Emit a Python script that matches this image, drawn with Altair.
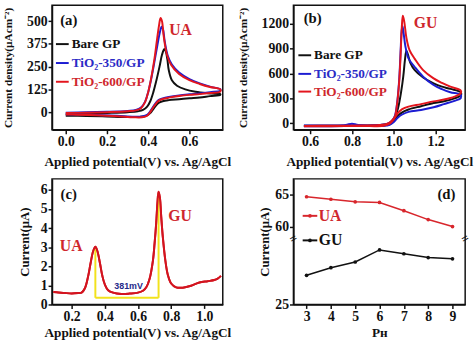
import altair as alt
import pandas as pd

SERIF = "Liberation Serif"
SANS = "Liberation Sans"
BLACK = "#111111"
BLUE = "#1c1cd2"
RED = "#e3151d"
TXT_RED = "#cf272d"
TXT_BLUE = "#2b2bc6"
YELLOW = "#f2e21c"
NAVY = "#1f2a8a"

SERIES = ["Bare GP", "TiO₂-350/GP", "TiO₂-600/GP"]
LINE_COLORS = [BLACK, BLUE, RED]
TEXT_COLORS = [BLACK, TXT_BLUE, TXT_RED]
E_TITLE = "Applied potential(V) vs. Ag/AgCl"
J_TITLE = "Current density(μAcm⁻²)"

# (a) uric acid: forward sweep then reverse sweep, potential (V) / current density
A_BARE_E = [0.00, 0.10, 0.20, 0.30, 0.35, 0.375, 0.395, 0.41, 0.425, 0.44, 0.455, 0.467, 0.478, 0.485, 0.493, 0.50, 0.515, 0.54, 0.58, 0.63, 0.69, 0.75,
            0.75, 0.70, 0.65, 0.60, 0.55, 0.50, 0.47, 0.45, 0.43, 0.41, 0.39, 0.36, 0.30, 0.20, 0.10, 0.00]
A_BARE_J = [-12, -9, -5, 0, 5, 12, 30, 60, 110, 175, 250, 315, 347, 335, 290, 230, 175, 145, 125, 112, 104, 99,
            95, 88, 80, 76, 71, 66, 60, 50, 25, -5, -20, -26, -27, -24, -21, -20]
A_350_E = [0.00, 0.10, 0.20, 0.30, 0.34, 0.365, 0.385, 0.40, 0.415, 0.43, 0.445, 0.457, 0.465, 0.472, 0.48, 0.495, 0.515, 0.55, 0.60, 0.65, 0.70, 0.75,
           0.75, 0.70, 0.65, 0.60, 0.55, 0.50, 0.47, 0.45, 0.43, 0.41, 0.395, 0.37, 0.33, 0.25, 0.15, 0.05, 0.00]
A_350_J = [-3, -1, 2, 7, 12, 25, 58, 110, 185, 275, 370, 440, 469, 455, 390, 310, 262, 218, 182, 158, 140, 126,
           118, 110, 103, 98, 92, 83, 75, 66, 40, 5, -15, -24, -25, -20, -16, -13, -12]
A_600_E = [0.00, 0.10, 0.20, 0.30, 0.34, 0.365, 0.385, 0.40, 0.415, 0.43, 0.443, 0.453, 0.46, 0.467, 0.475, 0.49, 0.51, 0.55, 0.60, 0.65, 0.70, 0.75,
           0.75, 0.70, 0.65, 0.60, 0.55, 0.50, 0.47, 0.45, 0.43, 0.41, 0.395, 0.37, 0.33, 0.25, 0.15, 0.05, 0.00]
A_600_J = [-5, -3, 0, 5, 10, 22, 55, 110, 190, 290, 400, 480, 518, 500, 420, 320, 262, 210, 176, 155, 138, 125,
           113, 105, 99, 95, 89, 80, 72, 62, 35, 0, -20, -28, -28, -22, -17, -14, -13]

# (b) guanine: forward sweep then reverse sweep
B_REV_E = [1.32, 1.29, 1.24, 1.19, 1.13, 1.07, 1.04, 1.02, 1.00, 0.98, 0.95, 0.85, 0.70, 0.57]
B_BARE_E = [0.57, 0.70, 0.85, 0.93, 0.97, 0.99, 1.005, 1.02, 1.035, 1.045, 1.053, 1.06, 1.067, 1.08, 1.10, 1.14, 1.19, 1.23, 1.27, 1.32] + B_REV_E
B_BARE_J = [-30, -29, -27, -22, -8, 20, 70, 180, 380, 560, 760, 874, 830, 720, 638, 550, 480, 440, 413, 373,
            334, 300, 265, 243, 205, 165, 130, 90, 30, -12, -28, -32, -33, -34]
B_350_E = [0.57, 0.70, 0.77, 0.80, 0.83, 0.93, 0.97, 0.99, 1.005, 1.015, 1.025, 1.032, 1.037, 1.041, 1.046, 1.055, 1.07, 1.10, 1.14, 1.19, 1.23, 1.27, 1.32] + B_REV_E
B_350_J = [-28, -27, -20, -5, -22, -22, -6, 25, 90, 230, 500, 850, 1100, 1169, 1100, 930, 780, 677, 560, 460, 410, 373, 342,
           302, 270, 230, 192, 160, 137, 105, 70, 15, -18, -32, -34, -35, -36]
B_600_E = [0.57, 0.70, 0.85, 0.93, 0.97, 0.99, 1.005, 1.015, 1.025, 1.032, 1.038, 1.043, 1.05, 1.06, 1.075, 1.10, 1.14, 1.19, 1.23, 1.27, 1.32] + B_REV_E
B_600_J = [-32, -31, -28, -22, -5, 30, 80, 220, 480, 800, 1150, 1294, 1220, 1030, 880, 775, 640, 540, 485, 440, 392,
           361, 320, 285, 263, 230, 200, 170, 125, 50, -5, -30, -34, -35, -36]

# (c) DPV of the UA + GU mixture
C_E = [0.09, 0.12, 0.16, 0.20, 0.24, 0.26, 0.28, 0.30, 0.315, 0.33, 0.343, 0.355, 0.37, 0.385, 0.40, 0.42, 0.45, 0.50, 0.55, 0.60,
       0.63, 0.65, 0.67, 0.69, 0.70, 0.71, 0.717, 0.724, 0.732, 0.74, 0.75, 0.765, 0.78, 0.80, 0.83, 0.87, 0.92, 0.97, 1.02, 1.06, 1.08, 1.10]
C_I = [0.65, 0.63, 0.60, 0.58, 0.60, 0.62, 0.85, 1.5, 2.2, 2.8, 3.02, 2.8, 2.2, 1.5, 1.05, 0.75, 0.62, 0.55, 0.57, 0.62,
       0.72, 0.9, 1.35, 2.3, 3.2, 4.3, 5.3, 5.9, 5.6, 4.6, 3.5, 2.3, 1.55, 1.1, 0.9, 0.88, 0.98, 1.15, 1.22, 1.28, 1.35, 1.5]
PEAK_E = [0.343, 0.724]
PEAK_TOP = [2.9, 5.8]
BRACKET_BASE = 0.35

# (d) peak current versus pH
PH = [3, 4, 5, 6, 7, 8, 9]
UA_I = [64.7, 64.3, 63.9, 63.8, 62.5, 61.1, 60.0]
GU_I = [29.6, 30.8, 31.7, 33.6, 33.0, 32.4, 32.2]
D_TICKS = [25, 60, 65]
UA_SHIFT = 22.71  # upper (UA) segment of the broken axis is shifted down by this much


def ex(field, dom, ticks, fmt, title, tpad=6):
    return alt.X(f"{field}:Q", scale=alt.Scale(domain=dom, nice=False, zero=False),
                 axis=alt.Axis(values=ticks, format=fmt, title=title, titlePadding=tpad, titleFontSize=13.5))


def ey(field, dom, ticks, title, tpad=12, expr=None, tsize=13):
    kw = dict(values=ticks, title=title, titlePadding=tpad, format="d", titleFontSize=tsize)
    if expr:
        kw["labelExpr"] = expr
    return alt.Y(f"{field}:Q", scale=alt.Scale(domain=dom, nice=False, zero=False), axis=alt.Axis(**kw))


def text_layer(df, X, Y, align):
    return alt.Chart(df).mark_text(align=align, baseline="middle", font=SERIF, fontWeight="bold").encode(
        x=X("x"), y=Y("y"), text="t:N",
        color=alt.Color("c:N", scale=None), size=alt.Size("s:Q", scale=None))


def cv_panel(curves, xdom, ydom, xt, yt, leg, tag, analyte, ytpad):
    X = lambda f: ex(f, xdom, xt, ".1f", E_TITLE)
    Y = lambda f: ey(f, ydom, yt, J_TITLE, ytpad, tsize=11.5)
    layers = []
    for name, color, (e, j) in zip(SERIES, LINE_COLORS, curves):
        df = pd.DataFrame({"x": e, "y": j, "k": range(len(e))})
        layers.append(alt.Chart(df).mark_line(color=color, strokeWidth=2, interpolate="catmull-rom")
                      .encode(x=X("x"), y=Y("y"), order="k:Q"))
    x0, x1, xt0, ys = leg
    ldf = pd.DataFrame({"x": [x0] * 3, "x1": [x1] * 3, "y": ys, "c": LINE_COLORS})
    layers.append(alt.Chart(ldf).mark_rule(strokeWidth=2).encode(
        x=X("x"), x2="x1:Q", y=Y("y"), color=alt.Color("c:N", scale=None)))
    tdf = pd.DataFrame({"x": [xt0] * 3, "y": ys, "t": SERIES, "c": TEXT_COLORS, "s": [13.5] * 3})
    layers.append(text_layer(tdf, X, Y, "left"))
    cdf = pd.DataFrame({"x": [tag[0], analyte[0]], "y": [tag[1], analyte[1]], "t": [tag[2], analyte[2]],
                        "c": [BLACK, TXT_RED], "s": [15, 16]})
    layers.append(text_layer(cdf, X, Y, "center"))
    return alt.layer(*layers)


pa = cv_panel([(A_BARE_E, A_BARE_J), (A_350_E, A_350_J), (A_600_E, A_600_J)],
              [-0.0667, 0.7619], [-97, 588], [0.0, 0.2, 0.4, 0.6], [0, 125, 250, 375, 500],
              (-0.0476, 0.0143, 0.0286, [374, 270, 167]),
              (0.0143, 507, "(a)"), (0.557, 453, "UA"), 13).properties(width=174, height=127)

pb = cv_panel([(B_BARE_E, B_BARE_J), (B_350_E, B_350_J), (B_600_E, B_600_J)],
              [0.520, 1.341], [-79, 1421], [0.6, 0.8, 1.0, 1.2], [0, 300, 600, 900, 1200],
              (0.5437, 0.6047, 0.6188, [818, 594, 381]),
              (0.612, 1267, "(b)"), (1.152, 1208, "GU"), 13).properties(width=175, height=127)

# (c)
CX = lambda f: ex(f, [0.0817, 1.111], [0.2, 0.4, 0.6, 0.8, 1.0], ".1f", E_TITLE, 3)
CY = lambda f: ey(f, [0, 6.58], [0, 1, 2, 3, 4, 5, 6], "Current(μA)", 9)
c_curve = alt.Chart(pd.DataFrame({"x": C_E, "y": C_I, "k": range(len(C_E))})).mark_line(
    color="#d3141f", strokeWidth=2, interpolate="catmull-rom").encode(x=CX("x"), y=CY("y"), order="k:Q")
brk = pd.DataFrame({"x": PEAK_E, "y": [BRACKET_BASE] * 2, "y2": PEAK_TOP})
c_vert = alt.Chart(brk).mark_rule(color=YELLOW, strokeWidth=2).encode(x=CX("x"), y=CY("y"), y2="y2:Q")
c_horiz = alt.Chart(pd.DataFrame({"x": [PEAK_E[0]], "x1": [PEAK_E[1]], "y": [BRACKET_BASE]})).mark_rule(
    color=YELLOW, strokeWidth=2).encode(x=CX("x"), x2="x1:Q", y=CY("y"))
sep_mv = round((PEAK_E[1] - PEAK_E[0]) * 1000)
c_sep = alt.Chart(pd.DataFrame({"x": [0.543], "y": [0.98], "t": [f"{sep_mv}mV"]})).mark_text(
    font=SANS, fontWeight="bold", fontSize=9, color=NAVY).encode(x=CX("x"), y=CY("y"), text="t:N")
c_txt = text_layer(pd.DataFrame({"x": [0.182, 0.197, 0.854], "y": [5.76, 3.08, 4.63], "t": ["(c)", "UA", "GU"],
                                 "c": [BLACK, TXT_RED, TXT_RED], "s": [15, 16, 16]}), CX, CY, "center")
pc = alt.layer(c_curve, c_vert, c_horiz, c_curve, c_sep, c_txt).properties(width=174, height=128)

# (d) broken y axis: lower segment in true units, upper segment shifted by UA_SHIFT
D_DOM = [25, 44.81]
tick_pos = [v if v < 40 else v - UA_SHIFT for v in D_TICKS]
lab = f"datum.value < 30 ? format(datum.value, '.0f') : format(datum.value + {UA_SHIFT}, '.0f')"
DX = lambda f: ex(f, [2.46, 9.52], PH, "d", "Pʜ", 3)
DY = lambda f: ey(f, D_DOM, tick_pos, "Current(μA)", 3, lab)
ddf = pd.DataFrame({"ph": PH * 2, "val": UA_I + GU_I, "s": ["UA"] * 7 + ["GU"] * 7})
d_base = alt.Chart(ddf).transform_calculate(
    y=f"datum.s == 'UA' ? datum.val - {UA_SHIFT} : datum.val")
d_lines = d_base.mark_line(strokeWidth=1.5, point=alt.OverlayMarkDef(filled=True, size=14)).encode(
    x=DX("ph"), y=DY("y"),
    color=alt.Color("s:N", scale=alt.Scale(domain=["UA", "GU"], range=["#d8262c", BLACK]), legend=None))
d_leg = pd.DataFrame({"x": [2.84, 2.84], "x1": [3.44, 3.44], "xm": [3.14, 3.14], "y": [38.98, 35.11],
                      "c": ["#d8262c", BLACK]})
d_leg_rule = alt.Chart(d_leg).mark_rule(strokeWidth=2).encode(
    x=DX("x"), x2="x1:Q", y=DY("y"), color=alt.Color("c:N", scale=None))
d_leg_pt = alt.Chart(d_leg).mark_point(filled=True, size=14, opacity=1).encode(
    x=DX("xm"), y=DY("y"), color=alt.Color("c:N", scale=None))
d_txt_l = text_layer(pd.DataFrame({"x": [3.50, 3.50], "y": [38.98, 35.11], "t": ["UA", "GU"],
                                   "c": [TXT_RED, BLACK], "s": [16, 16]}), DX, DY, "left")
d_txt_c = text_layer(pd.DataFrame({"x": [8.75], "y": [42.34], "t": ["(d)"], "c": [BLACK], "s": [15]}), DX, DY, "center")
d_break = alt.Chart(pd.DataFrame({"x": [2.46, 9.52], "y": [35.37, 35.37]})).mark_text(
    text="=", fontSize=13, fontWeight="bold", angle=330, color=BLACK, font=SERIF).encode(x=DX("x"), y=DY("y"))
pd_ = alt.layer(d_lines, d_leg_rule, d_leg_pt, d_txt_l, d_txt_c, d_break).properties(width=175, height=128)

chart = alt.concat(pa, pb, pc, pd_, columns=2, spacing={"row": 50, "column": 72}, bounds="flush").properties(
    padding={"left": 2, "top": 1, "right": 0, "bottom": 0}, background="white"
).configure_view(stroke=BLACK, strokeWidth=1.5).configure_axis(
    labelFont=SERIF, labelFontSize=14, labelFontWeight="bold", labelColor=BLACK, labelPadding=1,
    titleFont=SERIF, titleFontSize=13, titleFontWeight="bold", titleColor=BLACK,
    domainColor=BLACK, domainWidth=1.5, tickColor=BLACK, tickWidth=1.5, tickSize=4, grid=False)

chart.save("out.html", embed_options={"renderer": "svg", "actions": False})
